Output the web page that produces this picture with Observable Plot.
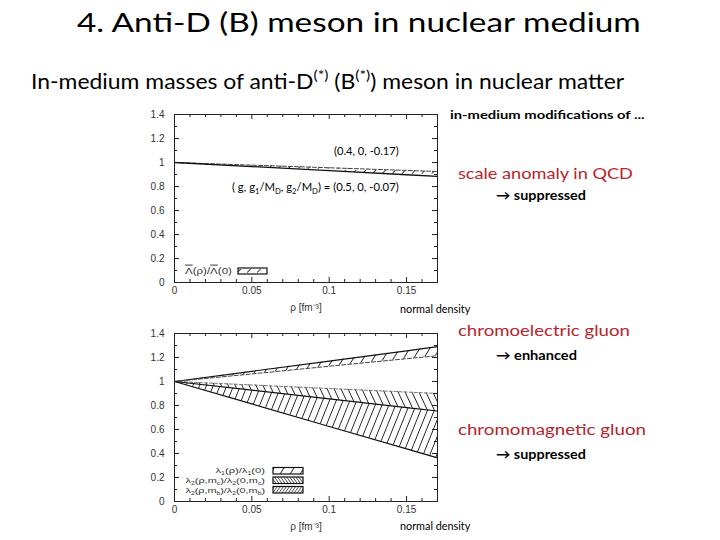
<!DOCTYPE html>
<html><head><meta charset="utf-8">
<script src="https://cdn.jsdelivr.net/npm/d3@7"></script>
<script src="https://cdn.jsdelivr.net/npm/@observablehq/plot@0.6"></script>
<style>
body{margin:0;background:#fff;}
#page{position:relative;width:720px;height:540px;overflow:hidden;background:#fff;}
.plot{position:absolute;}
#overlay{position:absolute;left:0;top:0;}
#defs{position:absolute;left:0;top:0;width:0;height:0;}
</style></head><body>
<svg id="defs" width="0" height="0">
  <defs>
    <pattern id="hTop" patternUnits="userSpaceOnUse" width="7" height="7" patternTransform="rotate(45)">
      <line x1="3.5" y1="0" x2="3.5" y2="7" stroke="#222" stroke-width="0.9" stroke-dasharray="4,2"/>
    </pattern>
    <pattern id="h1" patternUnits="userSpaceOnUse" width="8.5" height="8.5" patternTransform="rotate(32)">
      <line x1="4.25" y1="0" x2="4.25" y2="8.5" stroke="#222" stroke-width="0.9"/>
    </pattern>
    <pattern id="h2" patternUnits="userSpaceOnUse" width="6.3" height="6.3" patternTransform="rotate(-25)">
      <line x1="3.15" y1="0" x2="3.15" y2="6.3" stroke="#222" stroke-width="0.9"/>
    </pattern>
    <pattern id="h3" patternUnits="userSpaceOnUse" width="6.3" height="6.3" patternTransform="rotate(22)">
      <line x1="3.15" y1="0" x2="3.15" y2="6.3" stroke="#222" stroke-width="0.9"/>
    </pattern>
    <pattern id="lg2" patternUnits="userSpaceOnUse" width="2.5" height="2.5" patternTransform="rotate(-35)">
      <line x1="1.25" y1="0" x2="1.25" y2="2.5" stroke="#333" stroke-width="0.7"/>
    </pattern>
    <pattern id="lg3" patternUnits="userSpaceOnUse" width="2.5" height="2.5" patternTransform="rotate(35)">
      <line x1="1.25" y1="0" x2="1.25" y2="2.5" stroke="#333" stroke-width="0.7"/>
    </pattern>
  </defs>
</svg>
<div id="page"></div>
<script>
// ---------- data ----------
const rho = [0, 0.05, 0.1, 0.15, 0.17];
// top panel: Lambda-bar(rho)/Lambda-bar(0)
const lamUpper = [1, 0.978, 0.956, 0.934, 0.925];   // dashed
const lamLower = [1, 0.966, 0.932, 0.898, 0.885];   // solid
// bottom panel
const l1Upper = [1, 1.085, 1.17, 1.255, 1.29];
const l1Lower = [1, 1.063, 1.127, 1.19, 1.215];
const l2Upper = [1, 0.971, 0.941, 0.912, 0.90];
const l2Lower = [1, 0.928, 0.855, 0.783, 0.754];
const l3Lower = [1, 0.813, 0.625, 0.438, 0.363];

const xTicks = [0, 0.05, 0.1, 0.15];
const xTickLabels = ["0", "0.05", "0.1", "0.15"];
const xMinor = [0.01,0.02,0.03,0.04,0.06,0.07,0.08,0.09,0.11,0.12,0.13,0.14,0.16];
const yTicks = [0, 0.2, 0.4, 0.6, 0.8, 1, 1.2, 1.4];
const yTickLabels = ["0", "0.2", "0.4", "0.6", "0.8", "1", "1.2", "1.4"];
const yMinor = [0.1, 0.3, 0.5, 0.7, 0.9, 1.1, 1.3];
const xLabel = "ρ [fm⁻³]";

const page = document.getElementById("page");
const W = 310, H = 214, mL = 34, mR = 13, mT = 10, mB = 36;
const pw = W - mL - mR, ph = H - mT - mB;

function axisMarks() {
  const ticks = [];
  for (const [vals, len] of [[xTicks, 5], [xMinor, 3]]) {
    ticks.push(Plot.ruleX(vals, {insetTop: ph - len, stroke: "#222", strokeWidth: 1}));
    ticks.push(Plot.ruleX(vals, {insetBottom: ph - len, stroke: "#222", strokeWidth: 1}));
  }
  for (const [vals, len] of [[yTicks, 5], [yMinor, 3]]) {
    ticks.push(Plot.ruleY(vals, {insetRight: pw - len, stroke: "#222", strokeWidth: 1}));
    ticks.push(Plot.ruleY(vals, {insetLeft: pw - len, stroke: "#222", strokeWidth: 1}));
  }
  return [
    ...ticks,
    Plot.frame({stroke: "#222", strokeWidth: 1}),
    Plot.text(xTicks, {x: d => d, text: (d, i) => xTickLabels[i], frameAnchor: "bottom", dy: 11, fill: "#333", fontSize: 10}),
    Plot.text(yTicks, {y: d => d, text: (d, i) => yTickLabels[i], frameAnchor: "left", dx: -10, textAnchor: "end", fill: "#333", fontSize: 10}),
    Plot.text([xLabel], {text: d => d, frameAnchor: "bottom", dy: 28, fill: "#333", fontSize: 10})
  ];
}

function makePlot(marks, left, top) {
  const p = Plot.plot({
    width: W, height: H,
    marginLeft: mL, marginRight: mR, marginTop: mT, marginBottom: mB,
    x: {domain: [0, 0.17], axis: null},
    y: {domain: [0, 1.4], axis: null},
    style: {fontFamily: "Liberation Sans, Arial, sans-serif", background: "transparent", overflow: "visible"},
    marks
  });
  p.classList.add("plot");
  p.style.left = left + "px";
  p.style.top = top + "px";
  page.appendChild(p);
  return p;
}

// top panel
const topData = rho.map((r, i) => ({rho: r, up: lamUpper[i], lo: lamLower[i]}));
makePlot([
  Plot.areaY(topData, {x: "rho", y1: "lo", y2: "up", fill: "url(#hTop)"}),
  Plot.line(topData, {x: "rho", y: "up", stroke: "#444", strokeWidth: 1, strokeDasharray: "4,2"}),
  Plot.line(topData, {x: "rho", y: "lo", stroke: "#111", strokeWidth: 1.3}),
  ...axisMarks()
], 140, 104);

// bottom panel
const botData = rho.map((r, i) => ({rho: r, a: l1Upper[i], b: l1Lower[i], c: l2Upper[i], d: l2Lower[i], e: l3Lower[i]}));
makePlot([
  Plot.areaY(botData, {x: "rho", y1: "b", y2: "a", fill: "url(#h1)"}),
  Plot.areaY(botData, {x: "rho", y1: "d", y2: "c", fill: "url(#h2)"}),
  Plot.areaY(botData, {x: "rho", y1: "e", y2: "d", fill: "url(#h3)"}),
  Plot.line(botData, {x: "rho", y: "a", stroke: "#111", strokeWidth: 1.2}),
  Plot.line(botData, {x: "rho", y: "b", stroke: "#444", strokeWidth: 1, strokeDasharray: "4,2"}),
  Plot.line(botData, {x: "rho", y: "c", stroke: "#777", strokeWidth: 1, strokeDasharray: "3,2"}),
  Plot.line(botData, {x: "rho", y: "d", stroke: "#111", strokeWidth: 1.2}),
  Plot.line(botData, {x: "rho", y: "e", stroke: "#111", strokeWidth: 1.2}),
  ...axisMarks()
], 140, 323);

// ---------- slide text overlay ----------
const NS = "http://www.w3.org/2000/svg";
const ov = document.createElementNS(NS, "svg");
ov.setAttribute("id", "overlay");
ov.setAttribute("width", 720); ov.setAttribute("height", 540);
page.appendChild(ov);

function addText({x, y, parts, size, family = "Lato, 'Open Sans', sans-serif", weight = "normal", fill = "#000", anchor = "start", width = null, subShift = 0.28, supShift = 0.42, subScale = 0.68}) {
  const t = document.createElementNS(NS, "text");
  t.setAttribute("x", x); t.setAttribute("y", y);
  t.setAttribute("font-size", size);
  t.setAttribute("font-family", family);
  t.setAttribute("font-weight", weight);
  t.setAttribute("fill", fill);
  t.setAttribute("text-anchor", anchor);
  let cur = 0;
  for (const p of parts) {
    const [s, kind] = Array.isArray(p) ? p : [p, null];
    const ts = document.createElementNS(NS, "tspan");
    const target = kind === "sub" ? size * subShift : kind === "sup" ? -size * supShift : 0;
    if (target - cur !== 0) ts.setAttribute("dy", target - cur);
    cur = target;
    if (kind === "sub" || kind === "sup") ts.setAttribute("font-size", size * subScale);
    if (kind === "over") ts.setAttribute("text-decoration", "overline");
    ts.textContent = s;
    t.appendChild(ts);
  }
  ov.appendChild(t);
  if (width) {
    const bw = t.getBBox().width;
    if (bw > 0) {
      const sx = width / bw;
      t.setAttribute("transform", `translate(${x},0) scale(${sx},1) translate(${-x},0)`);
    }
  }
  return t;
}

const red = "#b8232b";
addText({x: 77, y: 32, parts: ["4. Anti-D (B) meson in nuclear medium"], size: 26, width: 564});
addText({x: 31, y: 89, parts: ["In-medium masses of anti-D", ["(*)", "sup"], " (B", ["(*)", "sup"], ") meson in nuclear matter"], size: 21, width: 594});
addText({x: 450, y: 119, parts: ["in-medium modifications of ..."], size: 11.5, weight: "bold", width: 195});
addText({x: 458, y: 179, parts: ["scale anomaly in QCD"], size: 16, fill: red, width: 175});
addText({x: 496, y: 200, parts: ["→ suppressed"], size: 12.5, weight: "bold", width: 90});
addText({x: 400, y: 313, parts: ["normal density"], size: 10.5, width: 71});
addText({x: 458, y: 336, parts: ["chromoelectric gluon"], size: 16, fill: red, width: 172});
addText({x: 496, y: 360, parts: ["→ enhanced"], size: 12.5, weight: "bold", width: 81});
addText({x: 458, y: 435, parts: ["chromomagnetic gluon"], size: 16, fill: red, width: 188});
addText({x: 496, y: 459, parts: ["→ suppressed"], size: 12.5, weight: "bold", width: 90});
addText({x: 400, y: 530, parts: ["normal density"], size: 10.5, width: 71});

// annotations inside top panel
addText({x: 334, y: 155, parts: ["(0.4, 0, -0.17)"], size: 10.5, width: 65});
addText({x: 232, y: 191, parts: ["( g, g", ["1", "sub"], "/M", ["D", "sub"], ", g", ["2", "sub"], "/M", ["D", "sub"], ") = (0.5, 0, -0.07)"], size: 10.5, width: 167});

// legends (gnuplot style)
const lf = "Liberation Sans, Arial, sans-serif";
addText({x: 185, y: 274.5, parts: [["Λ", "over"], "(ρ)/", ["Λ", "over"], "(0)"], size: 9.5, family: lf, fill: "#333", width: 47});
function box(x, y, w, h, fill) {
  const r = document.createElementNS(NS, "rect");
  r.setAttribute("x", x); r.setAttribute("y", y); r.setAttribute("width", w); r.setAttribute("height", h);
  r.setAttribute("fill", fill); r.setAttribute("stroke", "#111"); r.setAttribute("stroke-width", 1.2);
  ov.appendChild(r);
}
box(238, 268, 29, 6, "url(#hTop)");
const legOpts = {size: 8, family: lf, fill: "#333", anchor: "end", subShift: 0.18, subScale: 0.62};
addText({x: 265, y: 473.5, parts: ["λ", ["1", "sub"], "(ρ)/λ", ["1", "sub"], "(0)"], width: 50, ...legOpts});
addText({x: 265, y: 483.5, parts: ["λ", ["2", "sub"], "(ρ,m", ["c", "sub"], ")/λ", ["2", "sub"], "(0,m", ["c", "sub"], ")"], width: 80, ...legOpts});
addText({x: 265, y: 493.5, parts: ["λ", ["2", "sub"], "(ρ,m", ["b", "sub"], ")/λ", ["2", "sub"], "(0,m", ["b", "sub"], ")"], width: 80, ...legOpts});
box(273, 467.5, 30, 6.5, "url(#h1)");
box(273, 477, 30, 6.5, "url(#lg2)");
box(273, 486.5, 30, 6.5, "url(#lg3)");
</script>
</body></html>
